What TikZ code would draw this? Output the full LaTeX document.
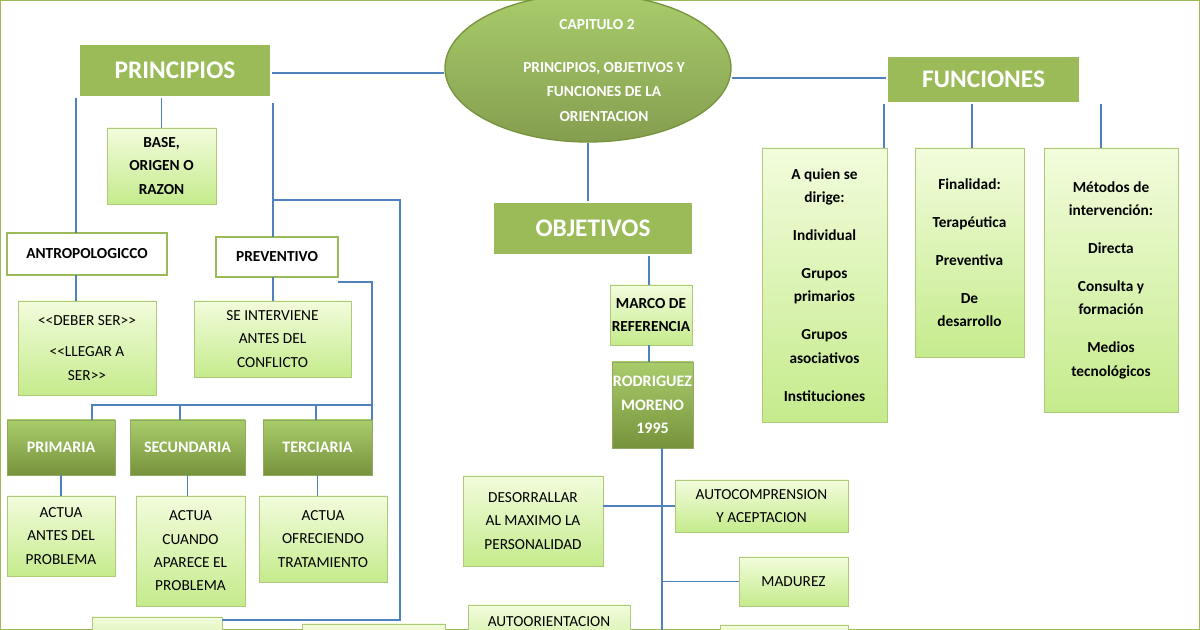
\documentclass[tikz,border=0pt]{standalone}
\usepackage{fontspec}
\setmainfont{Carlito}
\usetikzlibrary{shapes.geometric,shadows}
\definecolor{lnk}{HTML}{4F81BD}
\definecolor{gdark}{HTML}{77933C}
\definecolor{gmid}{HTML}{9BBB59}
\definecolor{glt}{HTML}{A9CC6B}
\definecolor{pale}{HTML}{F2FCDC}
\definecolor{palebot}{HTML}{C5EB8C}
\newcommand\mybox[7]{\node[#2,minimum width={(#5-#3)*0.75pt},minimum height={(#6-#4)*0.75pt}] (#1) at ({(#3+#5)/2},{(#4+#6)/2}) {#7};}
\tikzset{
 base/.style={inner sep=0pt,outer sep=0pt,align=center,drop shadow={shadow xshift=1pt,shadow yshift=-1pt,opacity=0.25}},
 light/.style={base,draw=gmid!80,line width=0.6pt,top color=pale,bottom color=palebot,font={\fontsize{11.5}{17.5}\selectfont}},
 lightb/.style={light,font={\fontsize{11.5}{17.5}\selectfont\bfseries}},
 dark/.style={base,draw=gdark!80,line width=0.6pt,top color=glt,bottom color=gdark,text=white,font={\fontsize{12}{17.5}\selectfont\bfseries}},
 big/.style={base,fill=gmid,draw=white,line width=3pt,text=white,font={\fontsize{19}{22}\selectfont\bfseries}},
 white/.style={base,fill=white,draw=gmid,line width=2.2pt,font={\fontsize{11.5}{14}\selectfont\bfseries}},
 link/.style={draw=lnk,line width=0.8pt}
}
\begin{document}
\begin{tikzpicture}[x=0.75pt,y=-0.75pt]
\clip (0,0) rectangle (1200,630);
\fill[white] (0,0) rectangle (1200,630);
% ellipse
\node[ellipse,draw=gdark,line width=1pt,top color=glt,bottom color=gdark!90,minimum width={286*0.75pt},minimum height={148*0.75pt},inner sep=0pt] (ell) at (588,68) {};
\node[text=white,font={\fontsize{11.5}{18.5}\selectfont\bfseries},align=center] (t1) at (597,25) {CAPITULO 2};
\node[text=white,font={\fontsize{11.5}{18.7}\selectfont\bfseries},align=center] (t2) at (604,92) {PRINCIPIOS, OBJETIVOS Y\\FUNCIONES DE LA\\ORIENTACION};
\mybox{princ}{big}{78}{43}{272}{98}{PRINCIPIOS}
\mybox{func}{big}{886}{55}{1081}{104}{FUNCIONES}
\mybox{obj}{big}{492}{201}{694}{256}{OBJETIVOS}
\mybox{base}{lightb}{107}{128}{216}{204}{BASE,\\ORIGEN O\\RAZON}
\mybox{antro}{white}{7}{233}{167}{275}{ANTROPOLOGICCO}
\mybox{prev}{white}{216}{237}{338}{277}{PREVENTIVO}
\mybox{deber}{light}{18}{301}{156}{395}{<{}<DEBER SER>{}>\\[6pt]<{}<LLEGAR A\\SER>{}>}
\mybox{inter}{light}{194}{301}{351}{377}{SE INTERVIENE\\ANTES DEL\\CONFLICTO}
\mybox{prim}{dark}{7}{420}{115}{475}{PRIMARIA}
\mybox{secu}{dark}{130}{420}{245}{475}{SECUNDARIA}
\mybox{terc}{dark}{263}{420}{372}{475}{TERCIARIA}
\mybox{a1}{light}{7}{496}{115}{576}{ACTUA\\ANTES DEL\\PROBLEMA}
\mybox{a2}{light}{136}{496}{245}{606}{ACTUA\\CUANDO\\APARECE EL\\PROBLEMA}
\mybox{a3}{light}{259}{496}{387}{582}{ACTUA\\OFRECIENDO\\TRATAMIENTO}
\mybox{bl}{light}{92}{617}{222}{660}{}
\mybox{bm}{light}{302}{624}{445}{660}{}
\mybox{marco}{lightb}{610}{285}{692}{345}{MARCO DE\\REFERENCIA}
\mybox{rodr}{dark}{612}{362}{693}{448}{RODRIGUEZ\\MORENO\\1995}
\mybox{deso}{light}{463}{476}{603}{566}{DESORRALLAR\\AL MAXIMO LA\\PERSONALIDAD}
\mybox{autoc}{light}{675}{480}{848}{532}{AUTOCOMPRENSION\\Y ACEPTACION}
\mybox{madu}{light}{739}{557}{848}{606}{MADUREZ}
\node[light,minimum width={162*0.75pt},minimum height={60*0.75pt},anchor=north west] (autoo) at (468,605) {};
\node[font={\fontsize{11.5}{17}\selectfont}] (autoot) at (549,622) {AUTOORIENTACION};
\mybox{br}{light}{720}{625}{848}{665}{}
\mybox{quien}{lightb}{762}{148}{887}{422}{A quien se\\dirige:\\[11pt]Individual\\[11pt]Grupos\\primarios\\[11pt]Grupos\\asociativos\\[11pt]Instituciones}
\mybox{fin}{lightb}{915}{148}{1024}{357}{Finalidad:\\[11pt]Terapéutica\\[11pt]Preventiva\\[11pt]De\\desarrollo}
\mybox{met}{lightb}{1044}{148}{1178}{412}{Métodos de\\intervención:\\[11pt]Directa\\[11pt]Consulta y\\formación\\[11pt]Medios\\tecnológicos}
% connectors
\draw[link] (princ.east |- 0,73) -- (ell.west |- 0,73);
\draw[link] (ell.east |- 0,78) -- (func.west |- 0,78);
\draw[link] (ell.south) -- (obj.north -| ell.south);
\draw[link] (base.north) -- (base.north |- princ.south);
\draw[link] (princ.south west) ++(-2,0) coordinate (pl) -- (pl |- antro.north);
\draw[link] (princ.south east) ++(1,5) coordinate (pr) -- (pr |- prev.north);
\coordinate (c1) at (400,200);
\coordinate (c2) at (400,620);
\draw[link] (pr |- c1) -- (c1) -- (c2) -- (bl.east |- c2);
\draw[link] (antro.south -| pl) -- (pl |- deber.north);
\draw[link] (prev.south -| pr) -- (pr |- inter.north);
\coordinate (c3) at (372,282);
\coordinate (c4) at (372,405);
\coordinate (c5) at (92,405);
\draw[link] (prev.east |- c3) -- (c3) -- (terc.north east);
\draw[link] (c4) -- (c5) -- (c5 |- prim.north);
\draw[link] (180,405) -- (180,420);
\draw[link] (316,405) -- (316,420);
\draw[link] (prim.south) -- (a1.north);
\draw[link] (secu.south) -- (secu.south |- a2.north);
\draw[link] (terc.south) -- (terc.south |- a3.north);
\coordinate (c7) at (649,0);
\draw[link] (obj.south -| c7) -- (marco.north -| c7);
\draw[link] (marco.south -| c7) -- (rodr.north -| c7);
\coordinate (c6) at (662,640);
\draw[link] (rodr.south -| c6) -- (c6);
\draw[link] (deso.east |- autoc.west) -- (autoc.west);
\draw[link] (c6 |- madu.west) -- (madu.west);
\draw[link] (884,104) -- (884,148);
\draw[link] (972,104) -- (972,148);
\draw[link] (1101,104) -- (1101,148);
\end{tikzpicture}
\end{document}
